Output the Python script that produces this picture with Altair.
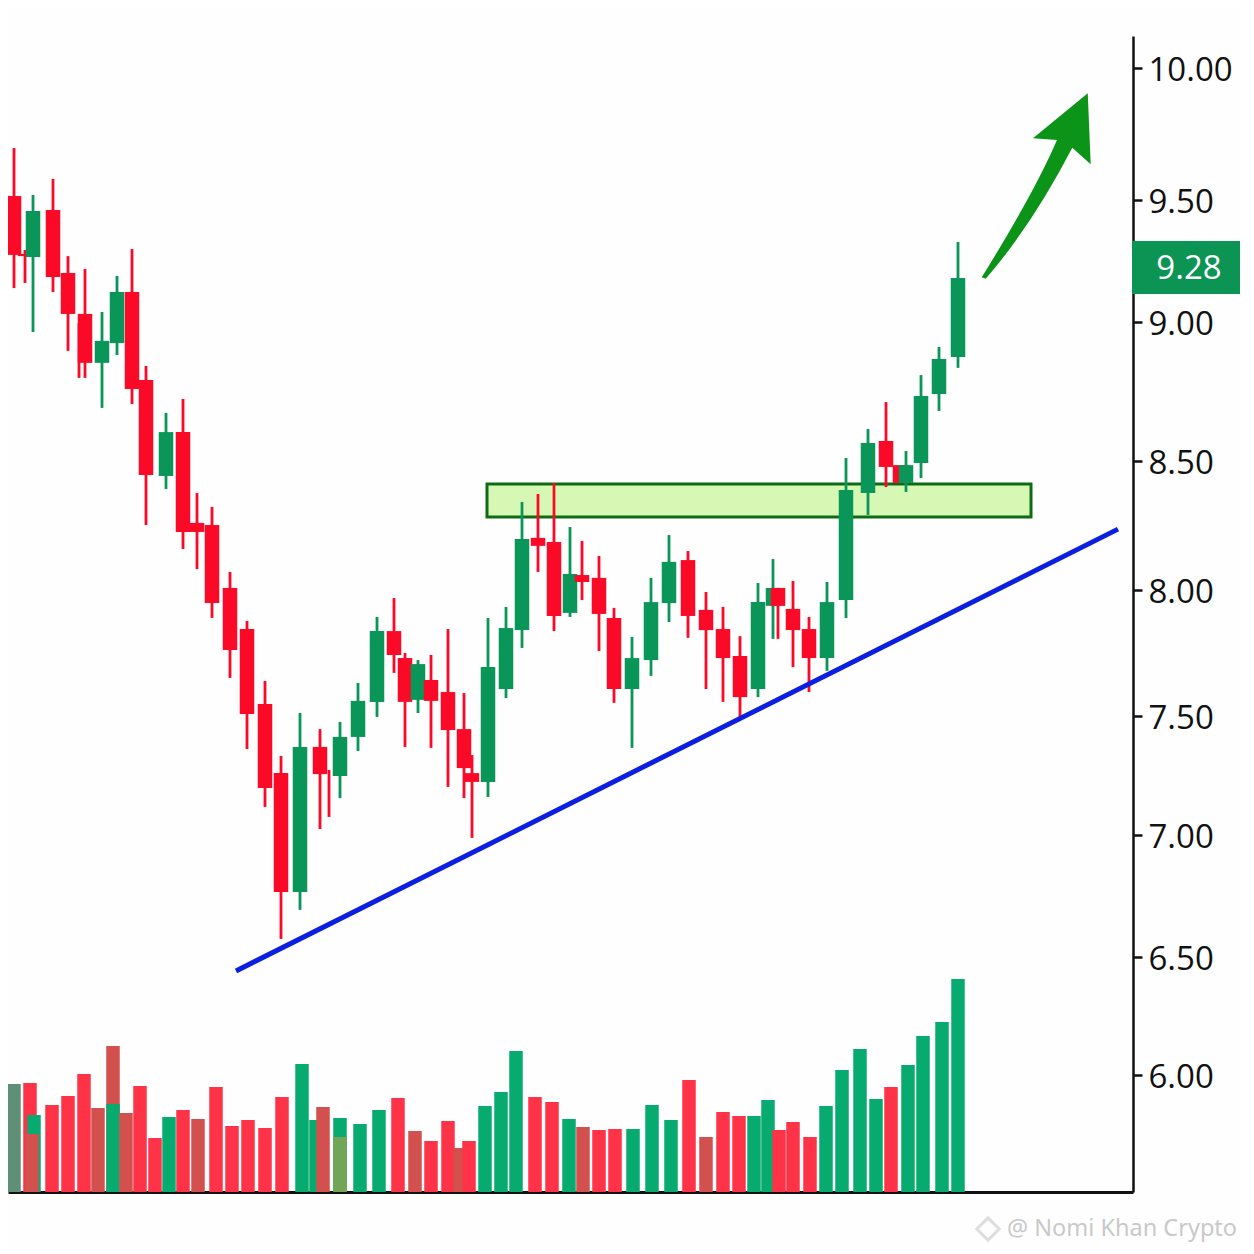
import altair as alt
import pandas as pd

# ---- price candles (session position, OHLC) ----
session = [0.1,1.4,2.5,3.3,5.3,6.8,7.9,8.5,10.2,11.7,13.2,14.6,16.6,18.3,19.7,21.2,23.0,24.7,26.5,28.1,30.0,32.0,32.9,34.0,35.8,37.7,39.4,40.5,41.8,43.1,44.8,46.4,47.2,48.8,50.6,52.2,53.8,55.4,57.0,58.2,59.9,61.4,63.2,65.1,66.9,68.8,70.6,72.3,74.0,75.8,77.3,77.8,79.3,80.9,82.7,84.6,86.8,88.6,90.0,90.6,92.1,93.9,95.8]
high = [9.633,9.697,9.295,9.519,9.580,9.270,8.996,9.217,9.041,9.189,9.299,8.842,8.673,8.723,8.376,8.322,8.070,7.877,7.639,7.332,7.512,7.445,7.273,7.475,7.631,7.893,7.968,7.750,7.722,7.742,7.845,7.591,7.336,7.889,7.933,8.341,8.372,8.415,8.244,8.190,8.132,7.929,7.814,8.047,8.213,8.151,7.992,7.933,7.817,8.027,8.120,8.008,8.035,7.893,8.031,8.511,8.615,8.712,8.484,8.536,8.809,8.910,9.328]
low = [9.213,9.139,9.160,8.964,9.123,8.896,8.799,8.799,8.691,8.881,8.705,8.252,8.391,8.159,8.081,7.889,7.651,7.361,7.118,6.574,6.693,7.025,7.076,7.155,7.353,7.496,7.671,7.370,7.512,7.366,7.202,7.155,6.988,7.160,7.571,7.770,8.070,7.837,7.893,7.960,7.758,7.552,7.366,7.659,7.873,7.810,7.607,7.556,7.492,7.575,7.806,7.806,7.694,7.595,7.679,7.889,8.291,8.399,8.415,8.380,8.434,8.680,8.835]
open_ = [9.316,9.515,9.279,9.266,9.459,9.201,8.996,9.033,8.853,8.924,9.123,8.791,8.442,8.604,8.260,8.252,8.008,7.845,7.548,7.260,6.766,7.370,7.273,7.248,7.412,7.556,7.837,7.730,7.564,7.643,7.595,7.445,7.260,7.223,7.607,7.841,8.202,8.186,7.909,8.058,8.047,7.889,7.607,7.722,7.948,8.116,7.921,7.845,7.738,7.607,7.937,8.008,7.925,7.845,7.730,7.960,8.376,8.572,8.484,8.415,8.492,8.741,8.874]
close = [9.519,9.275,9.270,9.455,9.184,9.033,8.996,8.853,8.932,9.123,8.759,8.446,8.604,8.225,8.225,7.948,7.762,7.508,7.197,6.766,7.370,7.256,7.273,7.412,7.560,7.837,7.742,7.556,7.706,7.560,7.441,7.281,7.223,7.694,7.849,8.198,8.171,7.897,8.062,8.031,7.905,7.607,7.730,7.952,8.109,7.897,7.841,7.730,7.575,7.952,8.008,7.937,7.841,7.730,7.952,8.388,8.565,8.477,8.415,8.484,8.734,8.867,9.180]

# ---- volume ----
vol_session = [0.1,1.4,3.0,3.4,3.2,5.2,6.8,8.4,9.8,11.3,11.3,12.6,14.0,15.5,16.9,18.3,19.8,21.6,23.2,24.8,26.5,28.2,30.2,31.6,32.3,34.0,34.0,36.0,37.9,39.8,41.5,43.1,44.8,46.0,46.9,48.5,50.1,51.6,53.5,55.2,56.9,58.3,59.9,61.5,63.3,65.2,67.1,68.9,70.6,72.3,73.9,75.4,76.8,77.9,79.3,81.0,82.6,84.2,86.0,87.6,89.1,90.8,92.3,94.2,95.8]
volume = [85,108,109,77,58,87,96,118,84,146,88,79,106,54,75,82,73,105,66,72,64,95,128,72,85,74,55,68,82,94,61,51,71,44,51,86,100,141,95,90,73,65,62,63,63,87,72,112,55,80,76,76,92,62,70,55,86,122,143,93,105,127,156,170,213]
vol_kind = ["up","mix","down","up","dim","down","down","down","dim","dim","up","dim","down","down","up","down","dim","down","down","down","down","down","up","up","dim","up","olive","up","up","down","dim","down","down","dim","down","up","up","up","down","down","up","dim","down","down","up","up","up","down","dim","down","down","up","up","down","down","down","up","up","up","up","down","up","up","up","up"]

# ---- axis ----
tick_values = [6.0,6.5,7.0,7.5,8.0,8.5,9.0,9.5,10.0]
price_domain = [5.504,6.0,6.5,7.0,7.5,8.0,8.5,9.0,9.5,10.0,10.121]
price_range = [1156,1039,921,799,680,554,425,286,164,32,0]

# ---- annotations ----
trend_t = [23.6,111.8]
trend_p = [6.441,8.236]
zone = dict(t0=48.7,t1=103.1,p0=8.283,p1=8.411)
badge = dict(t0=113.2,t1=124.0,p0=9.115,p1=9.332,label="9.28",tc=118.9,pc=9.217)
arrow_path = "M-.589 .982 Q-.016 .057 .22 -.495 L-.038 -.513 L.551 -.997 L.583 -.233 L.385 -.412 Q-.06 .44 -.546 .997 Z"

RED, GREEN = "#fb0a28", "#0b9659"

candles = pd.DataFrame(dict(t=session,high=high,low=low,open=open_,close=close))
candles["dir"] = ["up" if c > o else "down" for o, c in zip(open_, close)]
vol = pd.DataFrame(dict(t=vol_session,v=volume,kind=vol_kind))
trend = pd.DataFrame(dict(t=trend_t,p=trend_p))

x_scale = alt.Scale(domain=[0.8,113.3],nice=False,zero=False,padding=0)
y_scale = alt.Scale(domain=price_domain,range=price_range,nice=False,zero=False)
x_axis = alt.Axis(orient="bottom",labels=False,ticks=False,grid=False,domainColor="#111111",domainWidth=3,title=None)
X = alt.X("t:Q",scale=x_scale,axis=x_axis,title=None)
Y = alt.Y("p:Q",scale=y_scale,axis=None,title=None)
dir_color = alt.Color("dir:N",scale=alt.Scale(domain=["up","down"],range=[GREEN,RED]),legend=None)

axis_layer = alt.Chart(pd.DataFrame(dict(t=[96.0],p=[8.0]))).mark_point(opacity=0).encode(
    x=X,
    y=alt.Y("p:Q",scale=y_scale,title=None,axis=alt.Axis(orient="right",values=tick_values,format=".2f",grid=False,
        domainColor="#111111",domainWidth=2.5,tickColor="#111111",tickWidth=2.5,tickSize=9,labelPadding=6,labelOffset=2,
        labelFont="Open Sans",labelFontSize=33,labelColor="#111111",title=None)),
)

zone_layer = alt.Chart(pd.DataFrame([zone])).mark_rect(fill="#d6f8b4",stroke="#0d6b12",strokeWidth=3).encode(
    x=alt.X("t0:Q",scale=x_scale,axis=x_axis,title=None),x2="t1:Q",
    y=alt.Y("p0:Q",scale=y_scale,axis=None,title=None),y2="p1:Q")

vol_layer = alt.Chart(vol).mark_bar(size=13.5,clip=True).encode(
    x=X,
    y=alt.Y("v:Q",scale=alt.Scale(domain=[0,1156],nice=False),axis=None,title=None,stack=None),
    color=alt.Color("kind:N",scale=alt.Scale(domain=["up","down","dim","olive","mix"],
        range=["#07ab70","#ff3347","#d2504e","#72a555","#5f8f76"]),legend=None))

wick_layer = alt.Chart(candles).mark_rule(strokeWidth=2.8,clip=True).encode(
    x=X,
    y=alt.Y("high:Q",scale=y_scale,axis=None,title=None),y2="low:Q",
    color=dir_color)

body_layer = alt.Chart(candles).mark_bar(size=14.5,clip=True).encode(
    x=X,
    y=alt.Y("open:Q",scale=y_scale,axis=None,title=None),y2="close:Q",
    color=dir_color)

trend_layer = alt.Chart(trend).mark_line(color="#0a1fe0",strokeWidth=5).encode(x=X,y=Y)

arrow_layer = alt.Chart(pd.DataFrame(dict(t=[103.65],p=[9.553]))).mark_point(
    shape=arrow_path,filled=True,fill="#0b9418",size=34596,opacity=1,strokeWidth=0).encode(x=X,y=Y)

badge_rect = alt.Chart(pd.DataFrame([badge])).mark_rect(fill="#0c9455").encode(
    x=alt.X("t0:Q",scale=x_scale,axis=x_axis,title=None),x2="t1:Q",
    y=alt.Y("p0:Q",scale=y_scale,axis=None,title=None),y2="p1:Q")
badge_text = alt.Chart(pd.DataFrame([badge])).mark_text(font="Open Sans",fontSize=33,color="white",align="center",baseline="middle").encode(
    x=alt.X("tc:Q",scale=x_scale,axis=x_axis,title=None),
    y=alt.Y("pc:Q",scale=y_scale,axis=None,title=None),text="label:N")

wm = pd.DataFrame(dict(t=[100.7],p=[5.347],s=["@ Nomi Khan Crypto"]))
wm_text = alt.Chart(wm).mark_text(font="Noto Sans",fontSize=23.5,color="#c9c9c9",align="left",baseline="middle").encode(x=X,y=Y,text="s:N")
wm_logo = alt.Chart(pd.DataFrame(dict(t=[98.8],p=[5.347]))).mark_point(shape="diamond",filled=False,stroke="#d0d0d0",strokeWidth=3,size=500).encode(x=X,y=Y)

chart = alt.layer(axis_layer,zone_layer,vol_layer,wick_layer,body_layer,trend_layer,arrow_layer,badge_rect,badge_text,wm_logo,wm_text).resolve_scale(
    y="independent",color="independent"
).properties(width=1125,height=1156,padding={"left":0,"top":28,"right":0,"bottom":0},background="#fefefe"
).configure_view(stroke=None)

chart.save("out.html", embed_options={"renderer": "svg", "actions": False})
